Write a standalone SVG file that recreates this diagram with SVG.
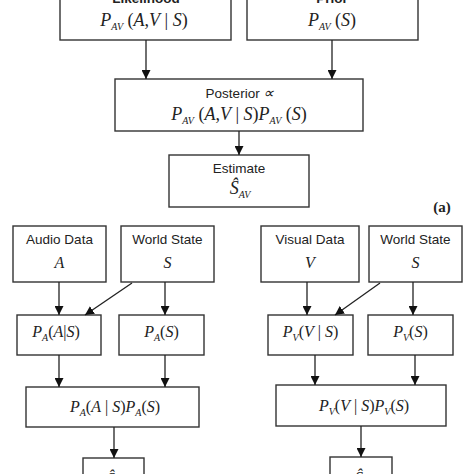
<svg xmlns="http://www.w3.org/2000/svg" width="474" height="474" viewBox="0 0 474 474">
<style>
.box{fill:#fff;stroke:#333;stroke-width:1.4}
.lbl{font-family:"Liberation Sans",Arial,sans-serif;font-size:13.5px;fill:#222;text-anchor:middle}
.m{font-family:"Liberation Serif","Times New Roman",serif;font-size:18px;fill:#222;text-anchor:middle}
.ms{font-family:"Liberation Serif","Times New Roman",serif;font-size:16px;fill:#222;text-anchor:middle}
.i{font-style:italic}
.sub{font-style:italic;font-size:10px}
.con line{stroke:#222;stroke-width:1.3;marker-end:url(#ah)}
</style>
<defs>
<marker id="ah" viewBox="0 0 10 10" refX="10" refY="5" markerWidth="9" markerHeight="9" markerUnits="userSpaceOnUse" orient="auto"><path d="M0,0 L10,5 L0,10 z" fill="#111"/></marker>
</defs>
<rect width="474" height="474" fill="#fff"/>

<g id="likelihood">
<rect class="box" x="60" y="-10" width="171" height="50"/>
<text class="lbl" x="146" y="2.5" font-weight="bold">Likelihood</text>
<text class="m" x="144" y="26"><tspan class="i">P</tspan><tspan class="sub" dy="4">AV</tspan><tspan dy="-4"> (</tspan><tspan class="i">A</tspan>,<tspan class="i">V</tspan> | <tspan class="i">S</tspan>)</text>
</g>
<g id="prior">
<rect class="box" x="247" y="-10" width="171" height="50"/>
<text class="lbl" x="332" y="2.5" font-weight="bold" fill="#999">Prior</text>
<text class="m" x="332" y="26"><tspan class="i">P</tspan><tspan class="sub" dy="4">AV</tspan><tspan dy="-4"> (</tspan><tspan class="i">S</tspan>)</text>
</g>
<g id="posterior">
<rect class="box" x="115" y="79" width="248" height="52"/>
<text class="lbl" x="240" y="98">Posterior <tspan class="i" font-family="Liberation Serif,serif" font-size="15">∝</tspan></text>
<text class="m" x="239" y="120"><tspan class="i">P</tspan><tspan class="sub" dy="4">AV</tspan><tspan dy="-4"> (</tspan><tspan class="i">A</tspan>,<tspan class="i">V</tspan> | <tspan class="i">S</tspan>)<tspan class="i">P</tspan><tspan class="sub" dy="4">AV</tspan><tspan dy="-4"> (</tspan><tspan class="i">S</tspan>)</text>
</g>
<g id="estimate-av">
<rect class="box" x="169" y="155" width="140" height="52"/>
<text class="lbl" x="239" y="173">Estimate</text>
<text class="m" x="240" y="194"><tspan class="i">Ŝ</tspan><tspan class="sub" dy="4">AV</tspan></text>
</g>
<text x="442" y="212" font-family="Liberation Serif,serif" font-size="15" font-weight="bold" fill="#222" text-anchor="middle">(a)</text>

<g id="audio-data">
<rect class="box" x="13" y="226" width="93" height="56"/>
<text class="lbl" x="59.5" y="244">Audio Data</text>
<text class="ms i" x="59.5" y="268">A</text>
</g>
<g id="world-state-a">
<rect class="box" x="121" y="226" width="93" height="56"/>
<text class="lbl" x="167.5" y="244">World State</text>
<text class="ms i" x="167.5" y="268">S</text>
</g>
<g id="visual-data">
<rect class="box" x="261" y="226" width="98" height="56"/>
<text class="lbl" x="310" y="244">Visual Data</text>
<text class="ms i" x="310" y="268">V</text>
</g>
<g id="world-state-v">
<rect class="box" x="369" y="226" width="93" height="56"/>
<text class="lbl" x="415.5" y="244">World State</text>
<text class="ms i" x="415.5" y="268">S</text>
</g>

<g id="pa-as">
<rect class="box" x="17" y="315" width="84" height="40"/>
<text class="ms" x="56" y="337"><tspan class="i">P</tspan><tspan class="sub" dy="4">A</tspan><tspan dy="-4">(</tspan><tspan class="i">A</tspan>|<tspan class="i">S</tspan>)</text>
</g>
<g id="pa-s">
<rect class="box" x="119" y="315" width="85" height="40"/>
<text class="ms" x="161.5" y="337"><tspan class="i">P</tspan><tspan class="sub" dy="4">A</tspan><tspan dy="-4">(</tspan><tspan class="i">S</tspan>)</text>
</g>
<g id="pv-vs">
<rect class="box" x="268" y="315" width="85" height="40"/>
<text class="ms" x="310.5" y="337"><tspan class="i">P</tspan><tspan class="sub" dy="4">V</tspan><tspan dy="-4">(</tspan><tspan class="i">V</tspan> | <tspan class="i">S</tspan>)</text>
</g>
<g id="pv-s">
<rect class="box" x="368" y="315" width="85" height="40"/>
<text class="ms" x="410.5" y="337"><tspan class="i">P</tspan><tspan class="sub" dy="4">V</tspan><tspan dy="-4">(</tspan><tspan class="i">S</tspan>)</text>
</g>

<g id="product-a">
<rect class="box" x="26" y="387" width="173" height="40"/>
<text class="ms" x="115" y="412"><tspan class="i">P</tspan><tspan class="sub" dy="4">A</tspan><tspan dy="-4">(</tspan><tspan class="i">A</tspan> | <tspan class="i">S</tspan>)<tspan class="i">P</tspan><tspan class="sub" dy="4">A</tspan><tspan dy="-4">(</tspan><tspan class="i">S</tspan>)</text>
</g>
<g id="product-v">
<rect class="box" x="276" y="385" width="170" height="41"/>
<text class="ms" x="364" y="411"><tspan class="i">P</tspan><tspan class="sub" dy="4">V</tspan><tspan dy="-4">(</tspan><tspan class="i">V</tspan> | <tspan class="i">S</tspan>)<tspan class="i">P</tspan><tspan class="sub" dy="4">V</tspan><tspan dy="-4">(</tspan><tspan class="i">S</tspan>)</text>
</g>

<g id="estimate-a">
<rect class="box" x="83" y="458" width="61" height="40"/>
<text class="ms" x="114" y="484"><tspan class="i">Ŝ</tspan><tspan class="sub" dy="4">A</tspan></text>
</g>
<g id="estimate-v">
<rect class="box" x="330" y="457" width="62" height="40"/>
<text class="ms" x="362" y="483"><tspan class="i">Ŝ</tspan><tspan class="sub" dy="4">V</tspan></text>
</g>

<g id="connectors" class="con">
<line x1="146" y1="40" x2="146" y2="79"/>
<line x1="332" y1="40" x2="332" y2="79"/>
<line x1="239" y1="131" x2="239" y2="155"/>
<line x1="59" y1="282" x2="59" y2="315"/>
<line x1="132" y1="283" x2="85" y2="315"/>
<line x1="165" y1="282" x2="165" y2="315"/>
<line x1="307" y1="282" x2="307" y2="315"/>
<line x1="380" y1="283" x2="335" y2="315"/>
<line x1="413" y1="282" x2="413" y2="315"/>
<line x1="59" y1="355" x2="59" y2="387"/>
<line x1="165" y1="355" x2="165" y2="387"/>
<line x1="315" y1="355" x2="315" y2="385"/>
<line x1="415" y1="355" x2="415" y2="385"/>
<line x1="114" y1="427" x2="114" y2="458"/>
<line x1="361" y1="426" x2="361" y2="457"/>
</g>
</svg>
